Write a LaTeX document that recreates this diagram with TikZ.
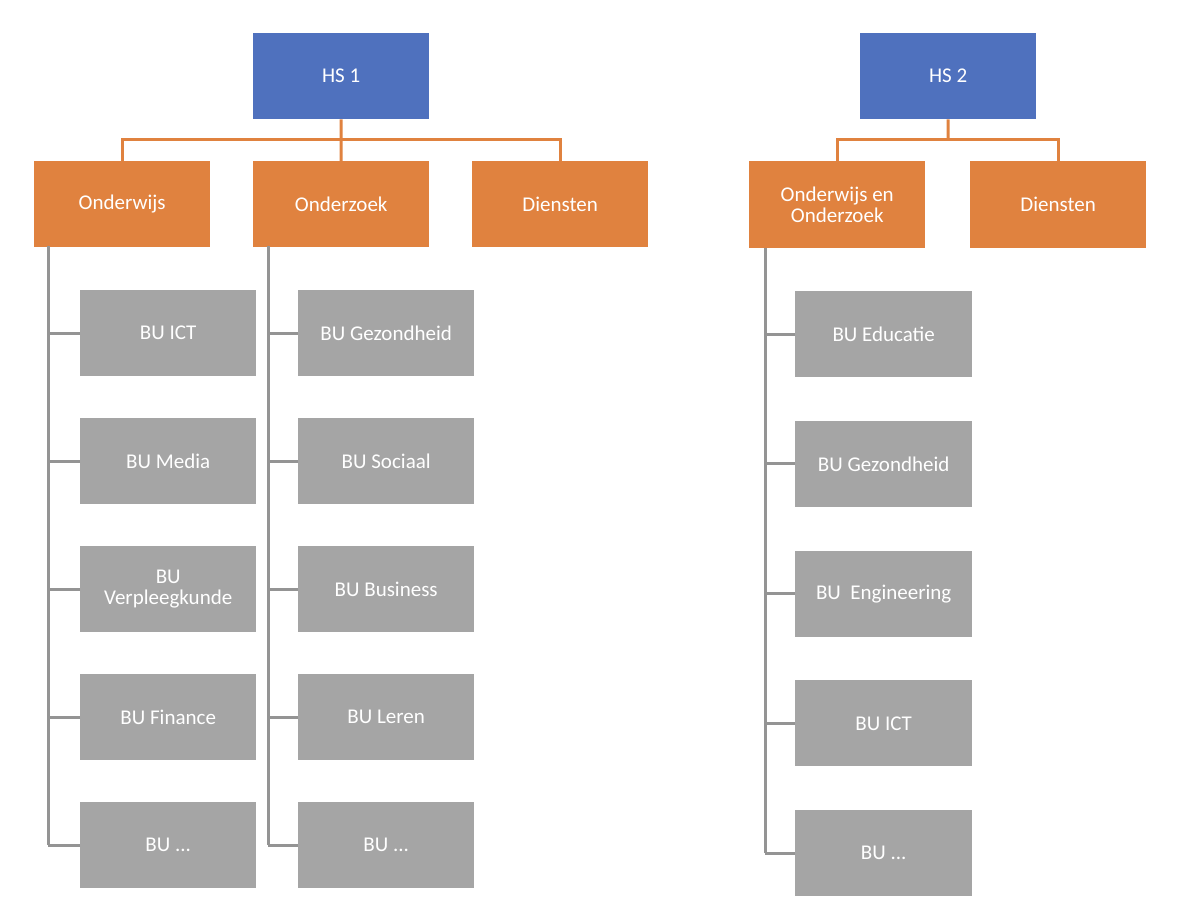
\documentclass[tikz,border=0pt]{standalone}
\usepackage{fontspec}
\setmainfont{Carlito}
\definecolor{hsblue}{HTML}{4F71BE}
\definecolor{orng}{HTML}{E0823F}
\definecolor{gry}{HTML}{A5A5A5}
\begin{document}
\begin{tikzpicture}[x=1pt,y=-1pt,
 box/.style={minimum width=176pt,minimum height=86pt,inner sep=2pt,text=white,font=\fontsize{21}{24}\selectfont,align=center,anchor=north west},
 hs/.style={box,fill=hsblue},
 cat/.style={box,fill=orng},
 bu/.style={box,fill=gry},
 oline/.style={draw=orng,line width=3pt},
 gline/.style={draw=gry!90!black,line width=3pt}]
\useasboundingbox (0,0) rectangle (1179,915);
\node[hs] (hs1) at (253,33) {HS 1};
\node[cat] (o1) at (34,161) {Onderwijs};
\node[cat] (z1) at (253,161) {Onderzoek};
\node[cat] (d1) at (472,161) {Diensten};
\node[hs] (hs2) at (860,33) {HS 2};
\node[cat,minimum height=87pt] (o2) at (749,161) {Onderwijs en\\[-3pt]Onderzoek};
\node[cat,minimum height=87pt] (d2) at (970,161) {Diensten};
\coordinate (j1) at (341,140);
\coordinate (j2) at (948,140);
\draw[oline] (hs1.south) -- (j1) -- (z1.north);
\draw[oline] (o1.north) |- (j1) -| (d1.north);
\draw[oline] (hs2.south) -- (j2);
\draw[oline] (o2.north) |- (j2) -| (d2.north);
\foreach \t [count=\i] in {{BU ICT},{BU Media},{BU\\[-3pt]Verpleegkunde},{BU Finance},{BU {.}{.}{.}}}{
  \node[bu] (a\i) at (80,{290+128*(\i-1)}) {\t};
  \draw[gline] (a\i.west) -- ++(-32,0);
}
\coordinate (a0) at (48,246);
\draw[gline] (a0) -- ([xshift=-32pt]a5.west);
\foreach \t [count=\i] in {{BU Gezondheid},{BU Sociaal},{BU Business},{BU Leren},{BU {.}{.}{.}}}{
  \node[bu] (b\i) at (298,{290+128*(\i-1)}) {\t};
  \draw[gline] (b\i.west) -- ++(-30,0);
}
\coordinate (b0) at (268,246);
\draw[gline] (b0) -- ([xshift=-30pt]b5.west);
\foreach \t [count=\i] in {{BU Educatie},{BU Gezondheid},{BU\ \ Engineering},{BU ICT},{BU {.}{.}{.}}}{
  \node[bu,minimum width=177pt] (c\i) at (795,{291+129.7*(\i-1)}) {\t};
  \draw[gline] (c\i.west) -- ++(-30,0);
}
\coordinate (c0) at (765,248);
\draw[gline] (c0) -- ([xshift=-30pt]c5.west);
\end{tikzpicture}
\end{document}
